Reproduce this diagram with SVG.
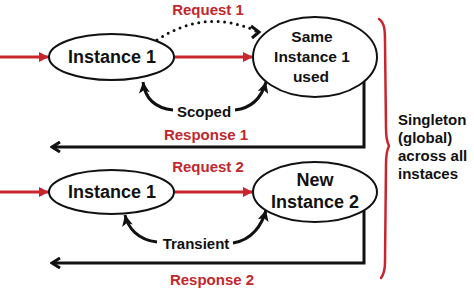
<svg xmlns="http://www.w3.org/2000/svg" width="474" height="293" viewBox="0 0 474 293">
<style>
text{font-family:"Liberation Sans",Arial,sans-serif;font-weight:bold;fill:#111}
.big{font-size:18px}
.mid{font-size:15.5px}
.sm{font-size:15px}
.red{fill:#c0282d}
.node{fill:#fff;stroke:#111;stroke-width:2}
.rl{stroke:#c8262c;stroke-width:3;fill:none}
.bl{stroke:#111;stroke-width:3;fill:none}
.dot{stroke:#111;stroke-width:3;fill:none;stroke-dasharray:0 6.5;stroke-linecap:round}
</style>
<defs>
<marker id="rh" viewBox="0 0 10 10" refX="10" refY="5" markerWidth="11" markerHeight="10" orient="auto" markerUnits="userSpaceOnUse"><path d="M0,0 L10,5 L0,10 z" fill="#c8262c"/></marker>
<marker id="bh" viewBox="0 0 10 10" refX="10" refY="5" markerWidth="11" markerHeight="11" orient="auto" markerUnits="userSpaceOnUse"><path d="M0,0 L10,5 L0,10 L2.5,5 z" fill="#111"/></marker>
<marker id="ch" viewBox="0 0 12 12" refX="10" refY="6" markerWidth="12" markerHeight="12" orient="auto" markerUnits="userSpaceOnUse"><path d="M2,1 L10,6 L2,11" fill="none" stroke="#111" stroke-width="3" stroke-linejoin="miter"/></marker>
</defs>
<g id="connectors">
<path class="rl" d="M0,57 L49,57" marker-end="url(#rh)"/>
<path class="rl" d="M174,57 L253,57" marker-end="url(#rh)"/>
<path class="dot" d="M157,40 Q205,8 256,31"/>
<path d="M251,26 L259,32 L252,38" fill="none" stroke="#111" stroke-width="3"/>
<path class="bl" d="M173,110 C155,108 145,98 143,82" marker-end="url(#bh)"/>
<path class="bl" d="M235,110 C253,108 262,96 266,82" marker-end="url(#bh)"/>
<path class="bl" d="M364,81 L364,147 L52,147" marker-end="url(#ch)"/>
<path class="rl" d="M0,192 L49,192" marker-end="url(#rh)"/>
<path class="rl" d="M174,192 L253,192" marker-end="url(#rh)"/>
<path class="bl" d="M157,242 C138,240 128,228 125,215" marker-end="url(#bh)"/>
<path class="bl" d="M233,243 C252,240 262,225 266,210" marker-end="url(#bh)"/>
<path class="bl" d="M364,210 L364,263 L52,263" marker-end="url(#ch)"/>
<text class="sm red" x="208" y="15" text-anchor="middle">Request 1</text>
<text class="sm" x="204" y="117" text-anchor="middle">Scoped</text>
<text class="sm red" x="206" y="140" text-anchor="middle">Response 1</text>
<text class="sm red" x="208" y="172" text-anchor="middle">Request 2</text>
<text class="sm" x="196" y="249" text-anchor="middle">Transient</text>
<text class="sm red" x="212" y="285" text-anchor="middle">Response 2</text>
</g>
<g id="instance1-scoped">
<ellipse class="node" cx="111.5" cy="57" rx="62.5" ry="23"/>
<text class="big" x="112" y="63" text-anchor="middle">Instance 1</text>
</g>
<g id="same-instance">
<ellipse class="node" cx="315" cy="57" rx="62" ry="40"/>
<text class="mid" x="312" y="42" text-anchor="middle">Same</text>
<text class="mid" x="312" y="62" text-anchor="middle">Instance 1</text>
<text class="mid" x="311" y="82" text-anchor="middle">used</text>
</g>
<g id="instance1-transient">
<ellipse class="node" cx="111.5" cy="192" rx="62.5" ry="22"/>
<text class="big" x="112" y="198" text-anchor="middle">Instance 1</text>
</g>
<g id="new-instance">
<ellipse class="node" cx="315" cy="192" rx="62" ry="30"/>
<text class="big" x="315" y="186" text-anchor="middle">New</text>
<text class="big" x="315" y="208" text-anchor="middle">Instance 2</text>
</g>
<g id="singleton">
<path d="M379,19 C385,23 385,32 385,42 L386,128 C386,138 387,142 389,146 C387,150 386,154 386,164 L385,262 C385,270 384,274 381,278" fill="none" stroke="#c8262c" stroke-width="2.5" stroke-linecap="round"/>
<text class="sm" x="398" y="125">Singleton</text>
<text class="sm" x="398" y="143">(global)</text>
<text class="sm" x="398" y="161">across all</text>
<text class="sm" x="398" y="179">instaces</text>
</g>
</svg>
